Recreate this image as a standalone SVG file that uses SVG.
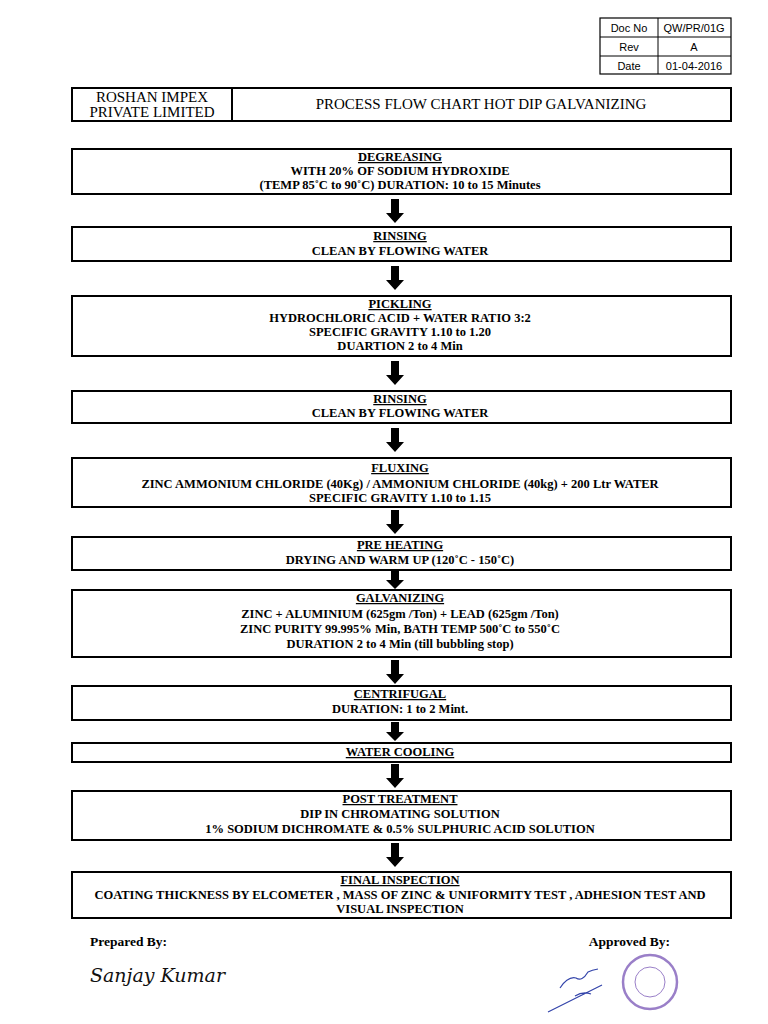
<svg xmlns="http://www.w3.org/2000/svg" width="768" height="1024" viewBox="0 0 768 1024">
<defs>
<style>
.b{fill:#fff;stroke:#000;stroke-width:2}
.t{font-family:"Liberation Serif",serif;font-weight:bold;font-size:12.5px;text-anchor:middle;fill:#000}
.u{text-decoration:underline}
.d{font-family:"Liberation Sans",sans-serif;font-size:11px;text-anchor:middle;fill:#000}
.h{font-family:"Liberation Serif",serif;font-size:15px;text-anchor:middle;fill:#000}
</style>
<path id="ar" d="M-4,0 H4 V14 H9 L0,24 L-9,14 H-4 Z"/>
<path id="as" d="M-4,0 H4 V10 H9 L0,19 L-9,10 H-4 Z"/>
</defs>
<rect width="768" height="1024" fill="#fff"/>
<g id="doc">
<rect x="600" y="18" width="131" height="56" fill="#fff" stroke="#000" stroke-width="1.2"/>
<line x1="658" y1="18" x2="658" y2="74" stroke="#000"/>
<line x1="600" y1="37" x2="731" y2="37" stroke="#000"/>
<line x1="600" y1="56" x2="731" y2="56" stroke="#000"/>
<text class="d" x="629" y="32">Doc No</text><text class="d" x="694" y="32">QW/PR/01G</text>
<text class="d" x="629" y="51">Rev</text><text class="d" x="694" y="51">A</text>
<text class="d" x="629" y="70">Date</text><text class="d" x="694" y="70">01-04-2016</text>
</g>
<g id="header">
<rect class="b" x="72" y="88" width="659" height="33"/>
<line x1="232" y1="88" x2="232" y2="121" stroke="#000" stroke-width="2"/>
<text class="h" x="152" y="102">ROSHAN IMPEX</text>
<text class="h" x="152" y="117">PRIVATE LIMITED</text>
<text class="h" x="481" y="109">PROCESS FLOW CHART HOT DIP GALVANIZING</text>
</g>
<g id="connectors">
<use href="#ar" x="395" y="199"/>
<use href="#ar" x="395" y="266"/>
<use href="#ar" x="395" y="361"/>
<use href="#ar" x="395" y="428"/>
<use href="#ar" x="395" y="510"/>
<use href="#as" x="395" y="570"/>
<use href="#ar" x="395" y="660"/>
<use href="#as" x="395" y="722"/>
<use href="#ar" x="395" y="764"/>
<use href="#ar" x="395" y="843"/>
</g>
<g id="degreasing"><rect class="b" x="72" y="149" width="659" height="45"/>
<text class="t u" x="400" y="161">DEGREASING</text>
<text class="t" x="400" y="175">WITH 20%  OF SODIUM HYDROXIDE</text>
<text class="t" x="400" y="189">(TEMP 85˚C to 90˚C) DURATION: 10 to 15 Minutes</text></g>
<g id="rinsing1"><rect class="b" x="72" y="227" width="659" height="34"/>
<text class="t u" x="400" y="240">RINSING</text>
<text class="t" x="400" y="255">CLEAN BY FLOWING WATER</text></g>
<g id="pickling"><rect class="b" x="72" y="296" width="659" height="60"/>
<text class="t u" x="400" y="308">PICKLING</text>
<text class="t" x="400" y="322">HYDROCHLORIC ACID + WATER RATIO 3:2</text>
<text class="t" x="400" y="336">SPECIFIC GRAVITY 1.10 to 1.20</text>
<text class="t" x="400" y="350">DUARTION 2 to 4 Min</text></g>
<g id="rinsing2"><rect class="b" x="72" y="391" width="659" height="32"/>
<text class="t u" x="400" y="403">RINSING</text>
<text class="t" x="400" y="417">CLEAN BY FLOWING WATER</text></g>
<g id="fluxing"><rect class="b" x="72" y="458" width="659" height="49"/>
<text class="t u" x="400" y="472">FLUXING</text>
<text class="t" x="400" y="488">ZINC AMMONIUM CHLORIDE (40Kg) / AMMONIUM CHLORIDE (40kg) + 200 Ltr WATER</text>
<text class="t" x="400" y="502">SPECIFIC GRAVITY 1.10 to 1.15</text></g>
<g id="preheating"><rect class="b" x="72" y="537" width="659" height="33"/>
<text class="t u" x="400" y="549">PRE HEATING</text>
<text class="t" x="400" y="564">DRYING AND WARM UP (120˚C - 150˚C)</text></g>
<g id="galvanizing"><rect class="b" x="72" y="590" width="659" height="67"/>
<text class="t u" x="400" y="602">GALVANIZING</text>
<text class="t" x="400" y="618">ZINC + ALUMINIUM (625gm /Ton) + LEAD (625gm /Ton)</text>
<text class="t" x="400" y="633">ZINC PURITY 99.995% Min, BATH TEMP 500˚C to 550˚C</text>
<text class="t" x="400" y="648">DURATION 2 to 4 Min (till bubbling stop)</text></g>
<g id="centrifugal"><rect class="b" x="72" y="686" width="659" height="34"/>
<text class="t u" x="400" y="698">CENTRIFUGAL</text>
<text class="t" x="400" y="713">DURATION: 1 to 2 Mint.</text></g>
<g id="watercooling"><rect class="b" x="72" y="743" width="659" height="19"/>
<text class="t u" x="400" y="756">WATER COOLING</text></g>
<g id="posttreatment"><rect class="b" x="72" y="791" width="659" height="49"/>
<text class="t u" x="400" y="803">POST TREATMENT</text>
<text class="t" x="400" y="818">DIP IN CHROMATING SOLUTION</text>
<text class="t" x="400" y="833">1% SODIUM DICHROMATE &amp; 0.5% SULPHURIC ACID SOLUTION</text></g>
<g id="finalinspection"><rect class="b" x="72" y="872" width="659" height="46"/>
<text class="t u" x="400" y="884">FINAL INSPECTION</text>
<text class="t" x="400" y="899">COATING THICKNESS BY ELCOMETER , MASS OF ZINC &amp; UNIFORMITY TEST , ADHESION TEST AND</text>
<text class="t" x="400" y="913">VISUAL INSPECTION</text></g>
<g id="footer">
<text class="t" x="90" y="946" style="text-anchor:start;font-size:13.5px">Prepared By:</text>
<text class="t" x="670" y="946" style="text-anchor:end;font-size:13.5px">Approved By:</text>
<text x="90" y="982" style="font-family:'DejaVu Serif',serif;font-style:italic;font-size:19px;fill:#111">Sanjay Kumar</text>
<path d="M548,1012 L602,985 M560,988 q8,-12 16,-10 q6,4 12,-6 q4,-2 10,-3 M575,996 q8,-5 16,-2" fill="none" stroke="#3344aa" stroke-width="1.2"/>
<circle cx="650" cy="982" r="27" fill="none" stroke="#9a7fc8" stroke-width="2.5"/>
<circle cx="650" cy="982" r="15" fill="none" stroke="#9a7fc8" stroke-width="1"/>
</g>
</svg>
